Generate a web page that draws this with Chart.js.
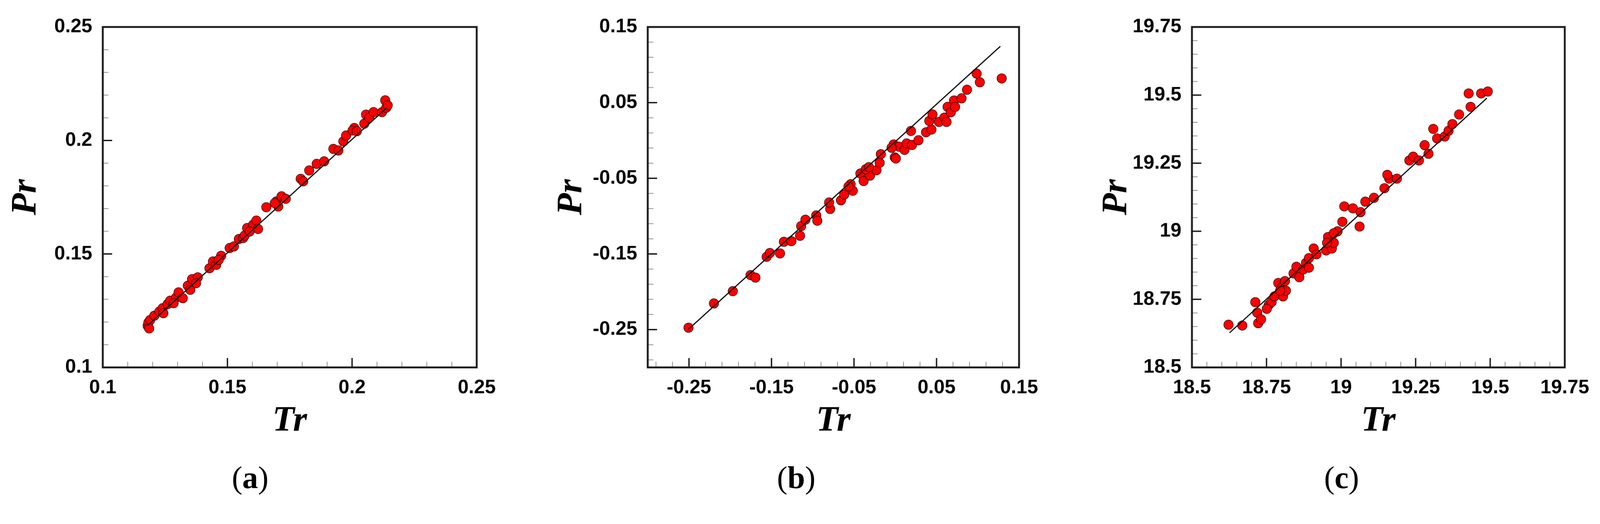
<!DOCTYPE html>
<html>
<head>
<meta charset="utf-8">
<script src="https://cdn.jsdelivr.net/npm/chart.js@4.4.1/dist/chart.umd.min.js"></script>
<style>
  html, body { margin: 0; padding: 0; background: #fff; overflow: hidden; }
  #wrap { position: absolute; left: 0; top: 0; width: 4266px; height: 1342px; transform-origin: 0 0; }
  .panel { position: absolute; top: 0; width: 1422px; height: 1342px; }
  .cap {
    position: absolute; top: 1224px; width: 240px; height: 100px; line-height: 100px;
    text-align: center; font-family: "Liberation Serif", serif; font-size: 84px; color: #000;
  }
</style>
</head>
<body>
<div id="wrap">
  <div class="panel" style="left:0px"><canvas id="chartA"></canvas></div>
  <div class="panel" style="left:1422px"><canvas id="chartB"></canvas></div>
  <div class="panel" style="left:2844px"><canvas id="chartC"></canvas></div>
  <div class="cap" style="left:547px">(<b>a</b>)</div>
  <div class="cap" style="left:2003px">(<b>b</b>)</div>
  <div class="cap" style="left:3457px">(<b>c</b>)</div>
</div>
<script>
// ============================================
// DATA
// ============================================

// panel (a)
const aTr = [0.1180,0.1183,0.1190,0.1186,0.1207,0.1227,0.1240,0.1260,0.1243,0.1270,0.1294,0.1304,0.1321,0.1284,0.1341,0.1358,0.1381,0.1351,0.1374,0.1428,0.1442,0.1455,0.1475,0.1465,0.1509,0.1526,0.1546,0.1563,0.1569,0.1579,0.1603,0.1616,0.1623,0.1589,0.1656,0.1697,0.1717,0.1734,0.1704,0.1690,0.1794,0.1828,0.1858,0.1888,0.1804,0.1925,0.1945,0.1965,0.1976,0.2009,0.2002,0.2019,0.2049,0.2056,0.2069,0.2086,0.2120,0.2137,0.2133,0.2143];
const aPr = [0.1183,0.1198,0.1209,0.1172,0.1228,0.1246,0.1261,0.1279,0.1239,0.1294,0.1308,0.1331,0.1305,0.1283,0.1360,0.1389,0.1397,0.1342,0.1371,0.1437,0.1467,0.1452,0.1492,0.1474,0.1526,0.1533,0.1566,0.1570,0.1581,0.1614,0.1629,0.1647,0.1610,0.1599,0.1706,0.1732,0.1754,0.1743,0.1709,0.1724,0.1831,0.1868,0.1897,0.1908,0.1820,0.1963,0.1956,0.1996,0.2022,0.2055,0.2044,0.2041,0.2074,0.2114,0.2100,0.2125,0.2125,0.2144,0.2177,0.2155];
const aLineTr = [0.1180, 0.2138];
const aLinePr = [0.1185, 0.2143];
const aTickVals = [0.1, 0.15, 0.2, 0.25];
const aTickLabels = ['0.1', '0.15', '0.2', '0.25'];

// panel (b)
const bTr = [-0.2506,-0.2198,-0.1969,-0.1754,-0.1695,-0.1559,-0.1520,-0.1397,-0.1350,-0.1259,-0.1154,-0.1141,-0.1089,-0.0958,-0.0945,-0.0789,-0.0802,-0.0658,-0.0619,-0.0541,-0.0515,-0.0423,-0.0384,-0.0306,-0.0358,-0.0228,-0.0189,-0.0175,-0.0019,-0.0006,0.0007,0.0046,0.0112,0.0138,0.0203,0.0281,0.0190,0.0373,0.0438,0.0412,0.0451,0.0529,0.0595,0.0621,0.0634,0.0673,0.0712,0.0725,0.0803,0.0869,0.0986,0.1025,0.1290,-0.0567,-0.0319,-0.0045];
const bPr = [-0.2475,-0.2154,-0.1992,-0.1779,-0.1813,-0.1538,-0.1487,-0.1493,-0.1339,-0.1331,-0.1260,-0.1132,-0.1047,-0.0990,-0.1061,-0.0905,-0.0820,-0.0791,-0.0715,-0.0578,-0.0664,-0.0437,-0.0536,-0.0465,-0.0380,-0.0394,-0.0295,-0.0181,-0.0053,-0.0224,-0.0238,-0.0082,-0.0124,-0.0039,-0.0059,0.0003,0.0126,0.0109,0.0145,0.0259,0.0344,0.0245,0.0302,0.0245,0.0444,0.0373,0.0529,0.0444,0.0557,0.0671,0.0884,0.0770,0.0820,-0.0607,-0.0352,-0.0096];
const bLineTr = [-0.2506, 0.1273];
const bLinePr = [-0.2495, 0.1244];
const bTickVals = [-0.25, -0.15, -0.05, 0.05, 0.15];
const bTickLabels = ['-0.25', '-0.15', '-0.05', '0.05', '0.15'];

// panel (c)
const cTr = [18.6226,18.6688,18.7124,18.7188,18.7220,18.7317,18.7573,18.7669,18.7766,18.7894,18.8022,18.8054,18.8118,18.8150,18.8407,18.8503,18.8600,18.8728,18.8824,18.8921,18.8921,18.9081,18.9177,18.9498,18.9562,18.9690,18.9755,18.9883,19.0043,19.0107,19.0396,19.0653,19.0621,19.0813,19.1102,19.1455,19.1615,19.1872,19.2289,19.2417,19.2610,19.2802,19.2931,19.3091,19.3219,19.3476,19.3604,19.3733,19.3957,19.4342,19.4278,19.4695,19.4919,18.7509,18.7958,18.9530,18.9755,19.1551];
const cPr = [18.6568,18.6540,18.7397,18.7011,18.6624,18.6764,18.7291,18.7397,18.7608,18.8100,18.7960,18.7608,18.8170,18.7819,18.8452,18.8698,18.8311,18.8593,18.8838,18.8663,18.9014,18.9366,18.9155,18.9296,18.9788,18.9366,18.9577,18.9999,19.0350,19.0913,19.0842,19.0702,19.0174,19.1088,19.1229,19.1581,19.1932,19.1932,19.2600,19.2741,19.2600,19.3163,19.2846,19.3760,19.3409,19.3479,19.3690,19.3936,19.4288,19.4569,19.5061,19.5061,19.5131,18.7151,18.7819,18.9577,18.9928,19.2073];
const cLineTr = [18.626, 19.489];
const cLinePr = [18.627, 19.489];
const cTickVals = [18.5, 18.75, 19, 19.25, 19.5, 19.75];
const cTickLabels = ['18.5', '18.75', '19', '19.25', '19.5', '19.75'];

// ============================================
// FIT THE 4266 x 1342 LAYOUT INTO THE WINDOW
// ============================================

const wrap = document.getElementById('wrap');
const fitScale = Math.min(window.innerWidth / 4266, window.innerHeight / 1342);
wrap.style.transform = 'scale(' + fitScale + ')';

// ============================================
// FRAME + INWARD TICKS
// ============================================

const frameTicks = {
    id: 'frameTicks',
    afterDraw(chart) {
        const ctx = chart.ctx;
        const area = chart.chartArea;
        ctx.save();
        ['x', 'y'].forEach(id => {
            const s = chart.scales[id];
            s.ticks.forEach(t => {
                if (t.value <= s.min + 1e-9 || t.value >= s.max - 1e-9) return;
                const major = t.label !== '';
                const p = s.getPixelForValue(t.value);
                const len = major ? 25 : 15;
                ctx.beginPath();
                ctx.lineWidth = major ? 3.5 : 2;
                ctx.strokeStyle = major ? '#111' : '#8a8a8a';
                if (id === 'x') {
                    ctx.moveTo(p, area.bottom);
                    ctx.lineTo(p, area.bottom - len);
                } else {
                    ctx.moveTo(area.left, p);
                    ctx.lineTo(area.left + len, p);
                }
                ctx.stroke();
            });
        });
        ctx.lineWidth = 5;
        ctx.strokeStyle = '#1a1a1a';
        ctx.strokeRect(area.left, area.top, area.width, area.height);
        ctx.restore();
    }
};

// ============================================
// CREATE CHARTS
// ============================================

function makePanel(id, tr, pr, lineTr, linePr, tickVals, tickLabels, min, max, minor, pad) {

    const pts = tr.map((v, i) => ({ x: v, y: pr[i] }));
    const line = lineTr.map((v, i) => ({ x: v, y: linePr[i] }));

    const buildTicks = (scale) => {
        const a = tickVals[0];
        const k0 = Math.ceil((min - a) / minor - 1e-6);
        const k1 = Math.floor((max - a) / minor + 1e-6);
        const out = [];
        for (let k = k0; k <= k1; k++) {
            out.push({ value: Math.round((a + k * minor) * 1e6) / 1e6 });
        }
        scale.ticks = out;
    };

    const label = (value) => {
        const i = tickVals.findIndex(t => Math.abs(t - value) < 1e-6);
        return i >= 0 ? tickLabels[i] : '';
    };

    const tickFont = { family: 'Liberation Sans', weight: 'bold', size: 52 };
    const titleFont = { family: 'Liberation Serif', weight: 'bold', style: 'italic', size: 96, lineHeight: 1 };

    new Chart(document.getElementById(id), {
        type: 'scatter',
        data: {
            datasets: [
                {
                    type: 'line',
                    data: line,
                    borderColor: '#000',
                    borderWidth: 3,
                    pointRadius: 0,
                    fill: false,
                    order: 0
                },
                {
                    data: pts,
                    backgroundColor: '#ff0000',
                    borderColor: '#2a0000',
                    borderWidth: 1.5,
                    pointRadius: 12.5,
                    order: 1
                }
            ]
        },
        options: {
            responsive: true,
            maintainAspectRatio: false,
            animation: false,
            layout: {
                padding: { left: pad.left, right: pad.right, top: 72, bottom: 170 }
            },
            plugins: {
                legend: { display: false },
                tooltip: { enabled: false }
            },
            scales: {
                x: {
                    type: 'linear',
                    min: min,
                    max: max,
                    afterBuildTicks: buildTicks,
                    afterFit: (s) => { s.height = 192; },
                    grid: { display: false, drawTicks: false },
                    border: { display: false },
                    ticks: {
                        autoSkip: false,
                        maxRotation: 0,
                        minRotation: 0,
                        padding: 23,
                        color: '#000',
                        font: tickFont,
                        callback: label
                    },
                    title: {
                        display: true,
                        text: 'Tr',
                        color: '#000',
                        font: titleFont,
                        padding: 0
                    }
                },
                y: {
                    type: 'linear',
                    min: min,
                    max: max,
                    afterBuildTicks: buildTicks,
                    afterFit: (s) => { s.width = pad.yWidth; },
                    grid: { display: false, drawTicks: false },
                    border: { display: false },
                    ticks: {
                        autoSkip: false,
                        padding: 28,
                        color: '#000',
                        font: tickFont,
                        callback: label
                    },
                    title: {
                        display: true,
                        text: 'Pr',
                        color: '#000',
                        font: titleFont,
                        padding: 0
                    }
                }
            }
        },
        plugins: [frameTicks]
    });
}

makePanel('chartA', aTr, aPr, aLineTr, aLinePr, aTickVals, aTickLabels, 0.1, 0.25, 0.01,
    { left: 22, yWidth: 252, right: 151 });

makePanel('chartB', bTr, bPr, bLineTr, bLinePr, bTickVals, bTickLabels, -0.3, 0.15, 0.02,
    { left: 55, yWidth: 250, right: 127 });

makePanel('chartC', cTr, cPr, cLineTr, cLinePr, cTickVals, cTickLabels, 18.5, 19.75, 0.05,
    { left: 86, yWidth: 248, right: 94 });
</script>
</body>
</html>
